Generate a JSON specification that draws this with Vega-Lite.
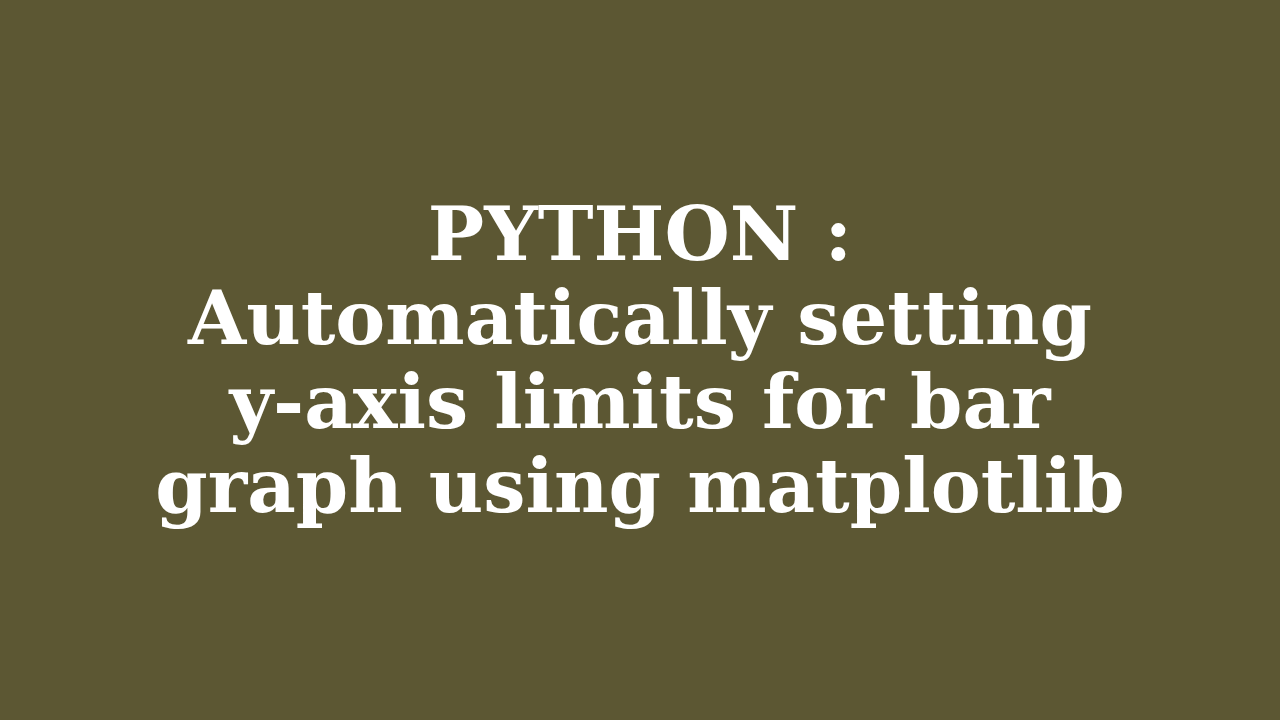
{
  "$schema": "https://vega.github.io/schema/vega-lite/v6.json",
  "width": 1280,
  "height": 720,
  "autosize": {"type": "fit", "contains": "padding"},
  "padding": 0,
  "background": "#5c5733",
  "config": {"view": {"stroke": null}},
  "data": {
    "values": [
      {"line": 1, "text": "PYTHON :"},
      {"line": 2, "text": "Automatically setting"},
      {"line": 3, "text": "y-axis limits for bar"},
      {"line": 4, "text": "graph using matplotlib"}
    ]
  },
  "mark": {
    "type": "text",
    "font": "DejaVu Serif",
    "fontWeight": "bold",
    "fontSize": 75,
    "color": "white",
    "align": "center",
    "baseline": "middle"
  },
  "encoding": {
    "x": {"datum": 0, "type": "quantitative", "scale": {"domain": [-1, 1]}, "axis": null},
    "y": {
      "field": "line",
      "type": "quantitative",
      "scale": {"domain": [-1.821, 6.75], "reverse": true, "nice": false, "zero": false},
      "axis": null
    },
    "text": {"field": "text"}
  }
}
